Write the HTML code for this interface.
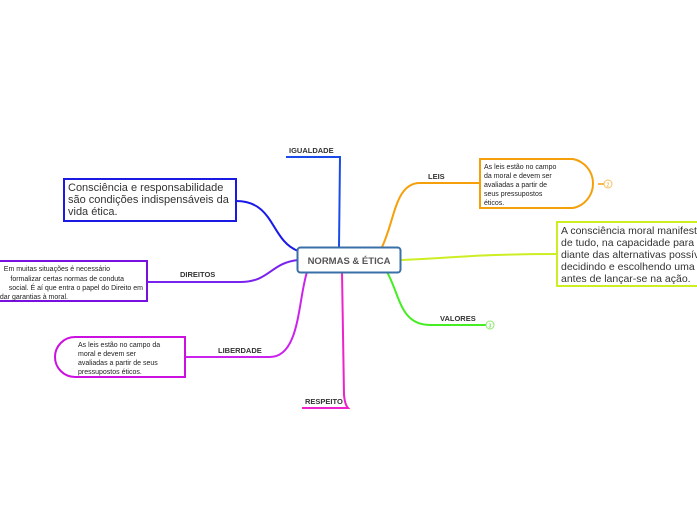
<!DOCTYPE html>
<html><head><meta charset="utf-8"><style>
html,body{margin:0;padding:0;background:#fff;width:697px;height:520px;overflow:hidden}
svg{display:block}
text{font-family:"Liberation Sans",sans-serif}
.lb{font-size:7.5px;font-weight:bold;fill:#333}
.s{font-size:7px;fill:#222}
.b{font-size:11px;fill:#333}
</style></head><body>
<svg width="697" height="520" viewBox="0 0 697 520" xmlns="http://www.w3.org/2000/svg">
<!-- IGUALDADE -->
<path d="M339,247 L340,157 L286,157" fill="none" stroke="#1a4be8" stroke-width="2"/>
<text x="289" y="153" class="lb">IGUALDADE</text>
<!-- blue box -->
<path d="M236,201 C275,201 270,240 298,251" fill="none" stroke="#1a1ae8" stroke-width="2"/>
<rect x="64" y="179" width="172" height="42" fill="#fff" stroke="#1a1ae0" stroke-width="2"/>
<text class="b"><tspan x="68" y="191">Consciência e responsabilidade</tspan><tspan x="68" y="203">são condições indispensáveis da</tspan><tspan x="68" y="215">vida ética.</tspan></text>
<!-- DIREITOS -->
<path d="M298,260 C270,263 270,282 240,282 L147,282" fill="none" stroke="#7a22ee" stroke-width="2"/>
<text x="180" y="277" class="lb">DIREITOS</text>
<rect x="-5" y="261" width="152" height="40" fill="#fff" stroke="#7a10e0" stroke-width="2"/>
<text class="s" text-anchor="end"><tspan x="110" y="271">Em muitas situações é necessário</tspan><tspan x="124" y="281">formalizar certas normas de conduta</tspan><tspan x="143" y="290">social. É aí que entra o papel do Direito em</tspan><tspan x="68" y="299">dar garantias à moral.</tspan></text>
<!-- LIBERDADE -->
<path d="M307,272 C298,300 300,357 270,357 L185,357" fill="none" stroke="#cc22ee" stroke-width="2"/>
<text x="218" y="353" class="lb">LIBERDADE</text>
<path d="M75,337 L185,337 L185,377 L75,377 A20,20 0 0 1 75,337 Z" fill="#fff" stroke="#cc10e0" stroke-width="2"/>
<text class="s"><tspan x="78" y="347">As leis estão no campo da</tspan><tspan x="78" y="356">moral e devem ser</tspan><tspan x="78" y="365">avaliadas a partir de seus</tspan><tspan x="78" y="374">pressupostos éticos.</tspan></text>
<!-- RESPEITO -->
<path d="M342,272 L344,395 Q345,405 348,408 L302,408" fill="none" stroke="#ee22cc" stroke-width="2"/>
<text x="305" y="404" class="lb">RESPEITO</text>
<!-- LEIS -->
<path d="M382,247 C395,220 395,183 420,183 L480,183" fill="none" stroke="#f5a00a" stroke-width="2"/>
<text x="428" y="179" class="lb">LEIS</text>
<path d="M480,159 L573,159 A25,25 0 0 1 573,208 L480,208 Z" fill="#fff" stroke="#f5a00a" stroke-width="2"/>
<text class="s"><tspan x="484" y="169">As leis estão no campo</tspan><tspan x="484" y="178">da moral e devem ser</tspan><tspan x="484" y="187">avaliadas a partir de</tspan><tspan x="484" y="196">seus pressupostos</tspan><tspan x="484" y="205">éticos.</tspan></text>
<line x1="598" y1="184" x2="604" y2="184" stroke="#f5a00a" stroke-width="1.5"/>
<circle cx="608" cy="184" r="4" fill="#fff" stroke="#f8c060" stroke-width="1"/>
<text x="606.5" y="186.5" font-size="5" fill="#f5a00a">2</text>
<!-- yellow green -->
<path d="M401,260 C450,258 480,254 557,254" fill="none" stroke="#ccee22" stroke-width="2"/>
<rect x="557" y="222" width="150" height="64" fill="#fff" stroke="#ccee22" stroke-width="2"/>
<text class="b" style="font-size:10.5px"><tspan x="561" y="234">A consciência moral manifesta-se, antes</tspan><tspan x="561" y="246">de tudo, na capacidade para deliberar</tspan><tspan x="561" y="258">diante das alternativas possíveis,</tspan><tspan x="561" y="270">decidindo e escolhendo uma delas</tspan><tspan x="561" y="282">antes de lançar-se na ação.</tspan></text>
<!-- VALORES -->
<path d="M387,272 C400,295 400,325 430,325 L487,325" fill="none" stroke="#44ee22" stroke-width="2"/>
<text x="440" y="321" class="lb">VALORES</text>
<circle cx="490" cy="325" r="4" fill="#fff" stroke="#88ee66" stroke-width="1"/>
<text x="488.5" y="327.5" font-size="5" fill="#44cc22">3</text>
<!-- central -->
<rect x="297.5" y="247.5" width="103" height="25" rx="3" fill="#fff" stroke="#3a6fa8" stroke-width="2"/>
<text x="349" y="264" text-anchor="middle" font-size="9.5" font-weight="bold" fill="#555">NORMAS &amp; ÉTICA</text>
</svg>
</body></html>
